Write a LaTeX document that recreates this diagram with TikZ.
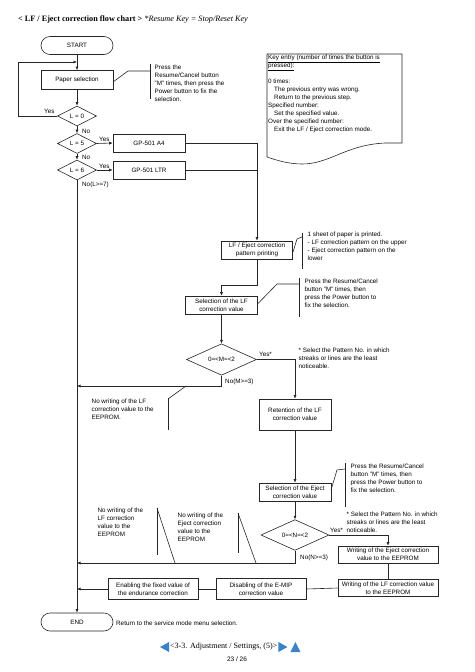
\documentclass[tikz,border=0pt]{standalone}
\usepackage{fontspec}
\setmainfont{Liberation Sans}
\newfontfamily\seriffont{Liberation Serif}
\usetikzlibrary{arrows.meta,shapes.geometric,calc}
\definecolor{navblue}{HTML}{3C82C8}
\begin{document}
\begin{tikzpicture}[x=1pt,y=-1pt,
  font=\fontsize{6.3}{8}\selectfont,
  line/.style={draw=black!85, line width=0.6pt},
  arr/.style={line, -{Latex[length=3.5pt,width=3pt]}},
  fbox/.style={draw=black!85, line width=0.6pt, rectangle, inner sep=1pt, align=center},
  term/.style={draw=black!85, line width=0.6pt, rectangle, rounded corners=9pt, minimum width=72pt, minimum height=18pt, inner sep=1pt},
  dec/.style={draw=black!85, line width=0.6pt, diamond, inner sep=0pt},
  note/.style={anchor=north west, align=left, inner sep=0pt},
  lbl/.style={inner sep=0pt, anchor=west}
]
\path[use as bounding box] (0,0) rectangle (474,672);

% title
\node[anchor=west, inner sep=0pt, font=\fontsize{8.2}{10}\selectfont] (title) at (18,19)
  {\seriffont\bfseries < LF / Eject correction flow chart >\mdseries\itshape{} *Resume Key = Stop/Reset Key};

% main nodes
\node[term] (start) at (77,45.5) {START};
\node[fbox, minimum width=72pt, minimum height=19pt] (paper) at (77,80) {Paper selection};
\node[dec, minimum width=39pt, minimum height=20pt] (d0) at (77,116) {L = 0};
\node[dec, minimum width=39pt, minimum height=20pt] (d5) at (77,143.5) {L = 5};
\node[dec, minimum width=39pt, minimum height=20pt] (d6) at (77,170) {L = 6};
\node[fbox, minimum width=72pt, minimum height=18pt] (a4) at (149,143) {GP-501 A4};
\node[fbox, minimum width=72pt, minimum height=18pt] (ltr) at (149,170) {GP-501 LTR};
\node[fbox, minimum width=71pt, minimum height=18pt] (pp) at (257,250) {LF / Eject correction\\pattern printing};
\node[fbox, minimum width=72pt, minimum height=18pt] (sellf) at (221.5,305) {Selection of the LF\\correction value};
\node[dec, minimum width=70pt, minimum height=25pt] (dm) at (221.5,359.5) {0=<M=<2};
\node[fbox, minimum width=72pt, minimum height=31pt] (ret) at (295,414.5) {Retention of the LF\\correction value};
\node[fbox, minimum width=72pt, minimum height=18pt] (selej) at (295,492) {Selection of the Eject\\correction value};
\node[dec, minimum width=68pt, minimum height=24pt] (dn) at (295,535) {0=<N=<2};
\node[fbox, minimum width=100pt, minimum height=17pt] (wej) at (388,554.5) {Writing of the Eject correction\\value to the EEPROM};
\node[fbox, minimum width=100pt, minimum height=17pt] (wlf) at (388,588) {Writing of the LF correction value\\to the EEPROM};
\node[fbox, minimum width=90pt, minimum height=21pt] (dis) at (261,589) {Disabling of the E-MIP\\correction value};
\node[fbox, minimum width=90pt, minimum height=21pt] (en) at (153,589) {Enabling the fixed value of\\the endurance correction};
\node[term] (endn) at (77,622) {END};

% junction coordinates
\coordinate (j0) at (77,62);
\coordinate (lx) at (18,62);
\coordinate (m1) at (77,386);
\coordinate (n1) at (77,563);
\coordinate (e1) at (77,589);

% connectors
\draw[arr] (start.south) -- (paper.north);
\draw[arr] (d0.west) -| (lx) -- (j0);
\draw[arr] (paper.south) -- (d0.north);
\draw[arr] (d0.south) -- (d5.north);
\draw[arr] (d5.south) -- (d6.north);
\draw[arr] (d5.east) -- (a4.west);
\draw[arr] (d6.east) -- (ltr.west);
\draw[arr] (a4.east) -| (pp.north);
\draw[line] (ltr.east) -- (ltr.east -| pp.north);
\draw[arr] (pp.south) -- ++(0,26) -| (sellf.north);
\draw[arr] (sellf.south) -- (dm.north);
\draw[arr] (dm.east) -| (ret.north);
\draw[arr] (dm.south) |- (m1);
\draw[arr] (ret.south) -- (selej.north);
\draw[arr] (selej.south) -- (dn.north);
\draw[arr] (dn.east) -| (wej.north);
\draw[arr] (dn.south) |- (n1);
\draw[line] (wej.south) -- (wlf.north);
\draw[line] (wlf.west) -- (dis.east);
\draw[line] (dis.west) -- (en.east);
\draw[arr] (en.west) -- (e1);
\draw[arr] (d6.south) -- (endn.north);

% branch labels
\node[lbl] (y0) at (44,111) {Yes};
\node[lbl] (n0) at (82,131) {No};
\node[lbl] (y5) at (99,139) {Yes};
\node[lbl] (n5) at (82,157) {No};
\node[lbl] (y6) at (99,166) {Yes};
\node[lbl] (n6) at (82,185) {No(L>=7)};
\node[lbl] (ym) at (259,354) {Yes*};
\node[lbl] (nm) at (225,382) {No(M>=3)};
\node[lbl] (yn) at (330,530) {Yes*};
\node[lbl] (nn) at (300,558) {No(N>=3)};

% annotation: paper selection
\coordinate (pa1) at (113,82); \coordinate (pa2) at (128,71); \coordinate (pa3) at (150,71);
\draw[line] (pa1) -- (pa2) -- (pa3);
\draw[line] (150,64) -- (150,99);
\node[note] (pnote) at (154.5,65) {Press the\\Resume/Cancel button\\"M" times, then press the\\Power button to fix the\\selection.};

% key entry document
\draw[line] (402,143) -- (385,143) .. controls (345,145) and (330,164) .. (302,164) .. controls (288,164) and (276,160) .. (267,157) -- (267,54) -- (402,54) -- cycle;
\node[note] (keynote) at (268,55) {\underline{Key entry (number of times the button is}\\\underline{pressed):}\\[8pt]0 times:\\\hspace*{6pt}The previous entry was wrong.\\\hspace*{6pt}Return to the previous step.\\Specified number:\\\hspace*{6pt}Set the specified value.\\Over the specified number:\\\hspace*{6pt}Exit the LF / Eject correction mode.};

% annotation: pattern printing
\coordinate (pb1) at (293,252); \coordinate (pb2) at (297,239); \coordinate (pb3) at (302,237);
\draw[line] (pb1) -- (pb2) -- (pb3);
\draw[line] (302,233) -- (302,269);
\node[note] (ppnote) at (307.5,232) {1 sheet of paper is printed.\\- LF correction pattern on the upper\\- Eject correction pattern on the\\lower};

% annotation: LF selection
\coordinate (pc1) at (257.5,304); \coordinate (pc2) at (277,284); \coordinate (pc3) at (299,284);
\draw[line] (pc1) -- (pc2) -- (pc3);
\draw[line] (299,278) -- (299,317);
\node[note] (slnote) at (304.5,279) {Press the Resume/Cancel\\button "M" times, then\\press the Power button to\\fix the selection.};

\node[note] (mnote) at (298.5,348) {* Select the Pattern No. in which\\streaks or lines are the least\\noticeable.};

% annotation: no writing LF (M)
\coordinate (pd1) at (186,386); \coordinate (pd2) at (168,399);
\draw[line] (pd1) -- (pd2);
\draw[line] (168,398) -- (168,430);
\node[note] (mnw) at (91.5,399) {No writing of the LF\\correction value to the\\EEPROM.};

% annotation: eject selection
\coordinate (pe1) at (331,490); \coordinate (pe2) at (337,470); \coordinate (pe3) at (345,469);
\draw[line] (pe1) -- (pe2) -- (pe3);
\draw[line] (345,463) -- (345,507);
\node[note] (senote) at (350.5,464) {Press the Resume/Cancel\\button "M" times, then\\press the Power button to\\fix the selection.};

\node[note] (nnote) at (346.5,512) {* Select the Pattern No. in which\\streaks or lines are the least\\noticeable.};

% annotations: no writing (N)
\coordinate (pf1) at (157,508); \coordinate (pf2) at (175,563);
\draw[line] (pf1) -- (pf2);
\draw[line] (157,508) -- (157,555);
\node[note] (nw1) at (97.5,508) {No writing of the\\LF correction\\value to the\\EEPROM};
\coordinate (pg1) at (238,513); \coordinate (pg2) at (256,563);
\draw[line] (pg1) -- (pg2);
\draw[line] (238,513) -- (238,553);
\node[note] (nw2) at (177.5,513) {No writing of the\\Eject correction\\value to the\\EEPROM};

% end note
\node[lbl] (endnote) at (116,623) {Return to the service mode menu selection.};

% footer
\fill[navblue] (160,647) -- (169,642) -- (169,652) -- cycle;
\node[lbl, font=\seriffont\fontsize{8}{10}\selectfont] (foot) at (170,647) {<3-3. Adjustment / Settings, (5)>};
\fill[navblue] ($(foot.east)+(1,-5)$) -- ++(9,5) -- ++(-9,5) -- cycle;
\fill[navblue] ($(foot.east)+(13,5)$) -- ++(10,0) -- ++(-5,-10) -- cycle;
\node[inner sep=0pt, font=\fontsize{6.5}{8}\selectfont] (page) at (237,659.5) {23 / 26};
\end{tikzpicture}
\end{document}
